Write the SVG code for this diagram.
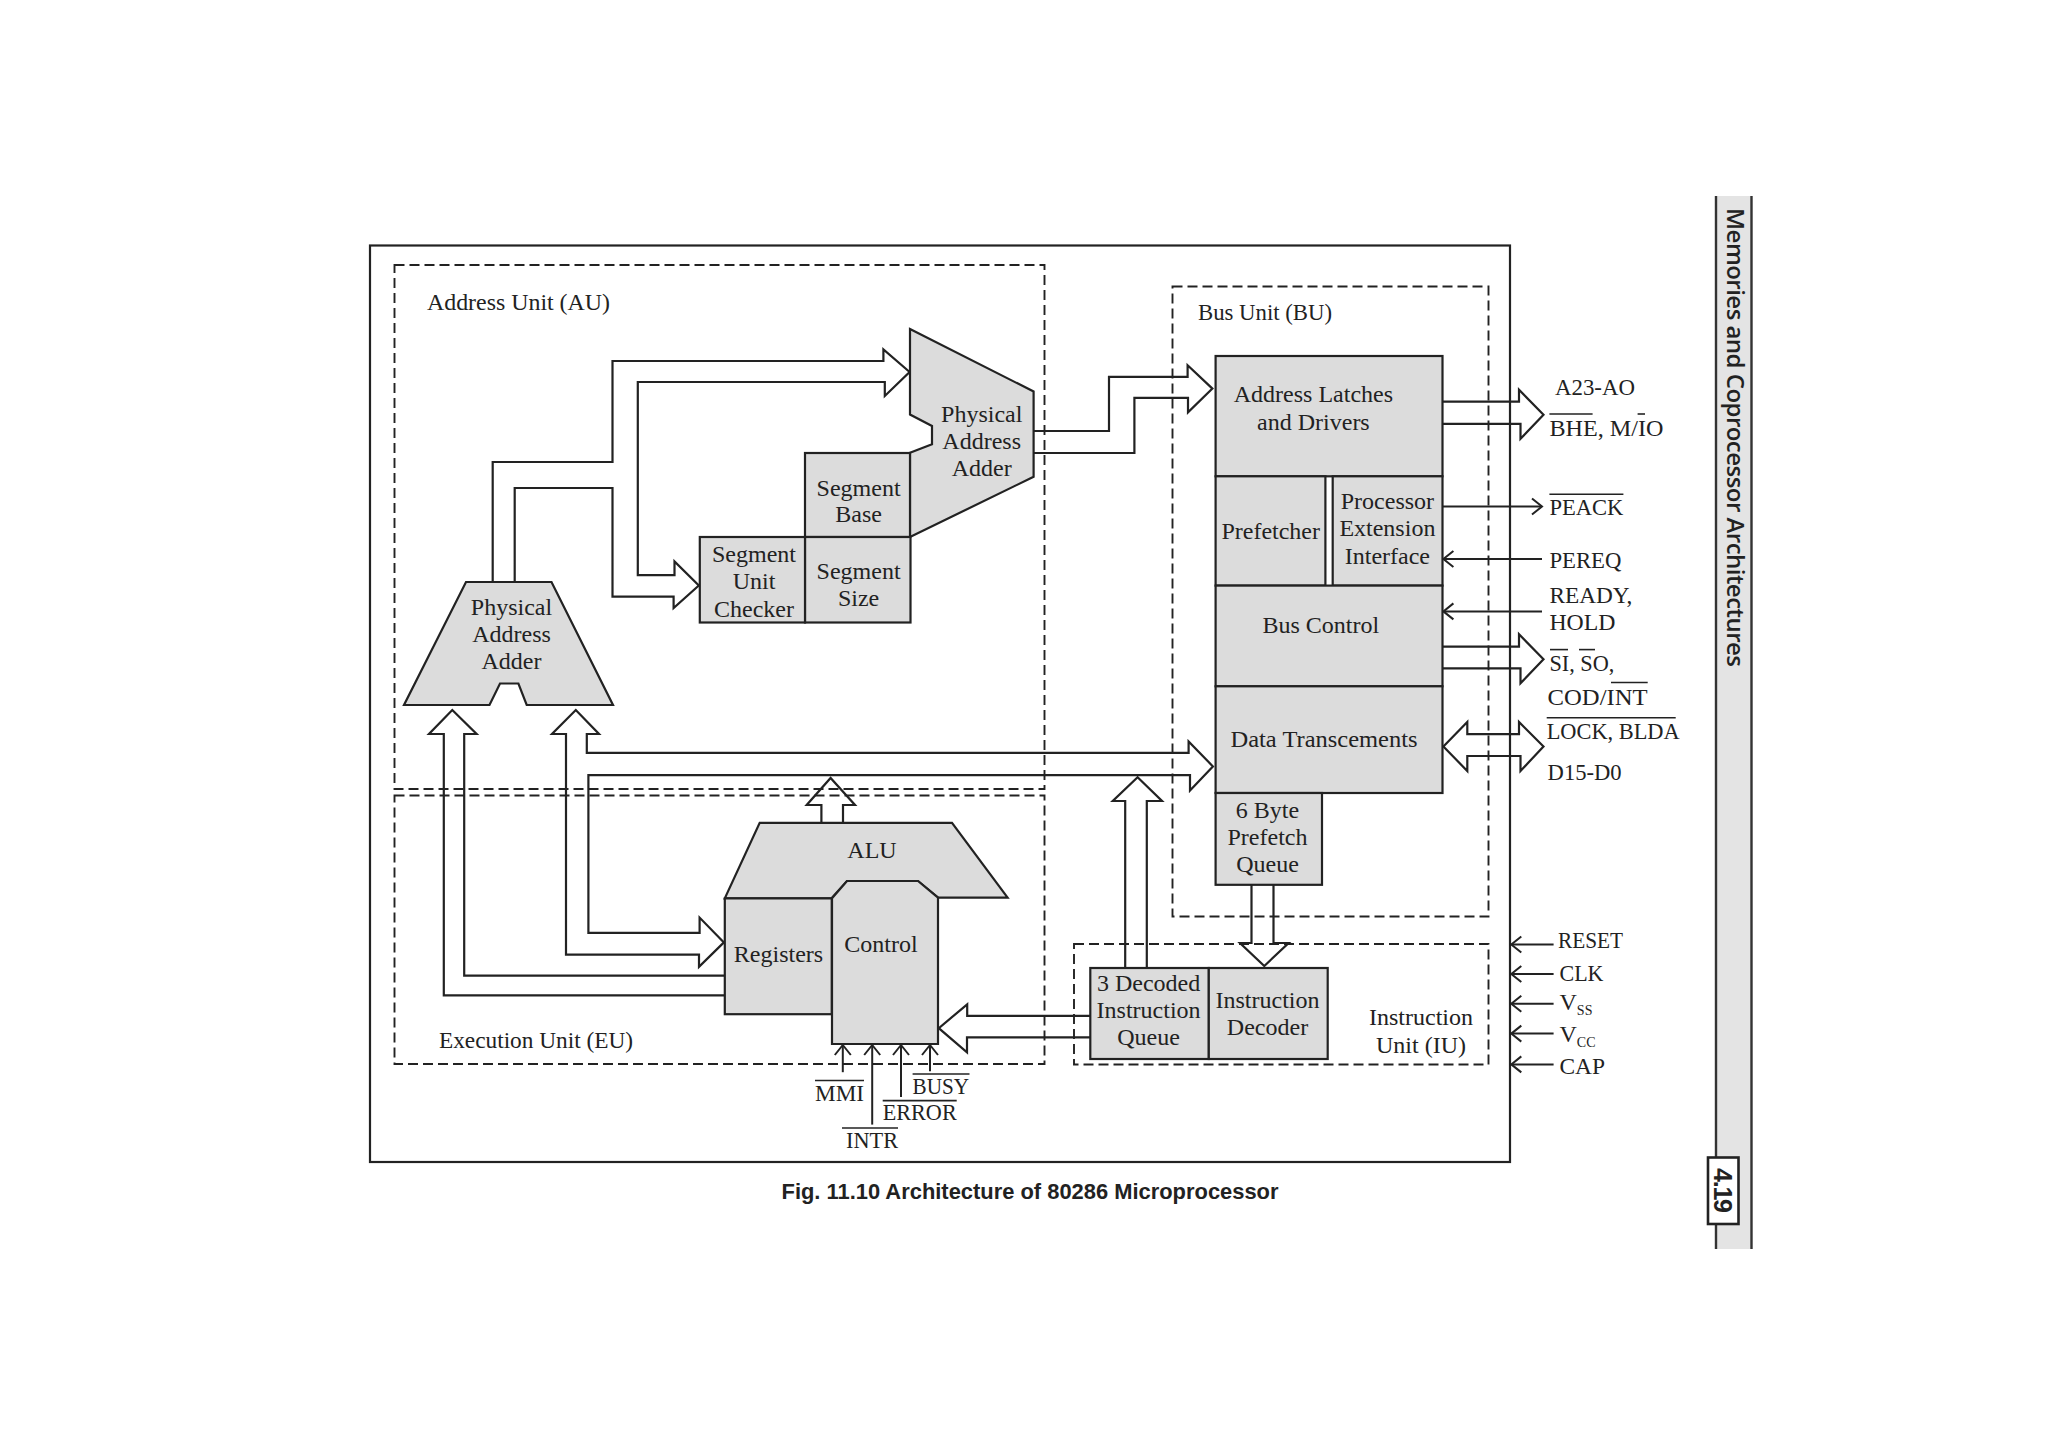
<svg xmlns="http://www.w3.org/2000/svg" width="2048" height="1447" viewBox="0 0 2048 1447">
<style>
text{font-family:"Liberation Serif","Times New Roman",serif;font-size:24px;fill:#222;}
.m{text-anchor:middle;}
.sub{font-size:14px;}
.n{fill:#dcdcdc;stroke:#222;stroke-width:2.2;stroke-linejoin:miter;}
.c{fill:none;stroke:#222;stroke-width:2.2;stroke-linejoin:miter;}
.s{fill:none;stroke:#222;stroke-width:2;marker-end:url(#open);}
.d{fill:none;stroke:#222;stroke-width:1.9;stroke-dasharray:10 5;}
.o{stroke:#222;stroke-width:1.6;}
.bar{stroke:#333;stroke-width:2.4;}
</style>
<defs>
<marker id="open" markerUnits="userSpaceOnUse" markerWidth="14" markerHeight="24" viewBox="-12 -12 14 24" refX="0" refY="0" orient="auto">
<path d="M-10,-8L0,0L-10,8" fill="none" stroke="#222" stroke-width="2"/>
</marker>
</defs>
<rect width="2048" height="1447" fill="#fff"/>

<g id="sidebar">
<rect x="1716" y="196" width="35" height="1053" fill="#e4e4e4"/>
<line class="bar" x1="1716" y1="196" x2="1716" y2="1249"/>
<line class="bar" x1="1751.5" y1="196" x2="1751.5" y2="1249"/>
<text transform="translate(1727,208) rotate(90)" style="font-family:'Open Sans',sans-serif;font-weight:600;font-size:24px" textLength="459">Memories and Coprocessor Architectures</text>
<rect x="1708" y="1157.5" width="30.5" height="66.5" fill="#fff" stroke="#222" stroke-width="2.6"/>
<text transform="translate(1714,1168) rotate(90)" style="font-family:'Liberation Sans',sans-serif;font-weight:700;font-size:25px" textLength="45">4.19</text>
</g>

<rect id="chip" x="370" y="245.5" width="1140" height="916.5" fill="none" stroke="#222" stroke-width="2.2"/>

<g id="units">
<rect class="d" x="394.5" y="265" width="650" height="524"/>
<rect class="d" x="394.5" y="795.5" width="650" height="268.5"/>
<rect class="d" x="1172.5" y="286.5" width="316" height="630"/>
<rect class="d" x="1074" y="944" width="414.5" height="120.5"/>
<text x="427" y="310" textLength="183" lengthAdjust="spacingAndGlyphs">Address Unit (AU)</text>
<text x="439" y="1047.5" textLength="194" lengthAdjust="spacingAndGlyphs">Execution Unit (EU)</text>
<text x="1198" y="320" textLength="134" lengthAdjust="spacingAndGlyphs">Bus Unit (BU)</text>
<text class="m" x="1421" y="1024.5">Instruction</text>
<text class="m" x="1421" y="1052.5">Unit (IU)</text>
</g>

<g id="connectors">
<path class="c" d="M492.7,581.3V462H612.5V361H883.4V349.4L909.6,372L884.8,396V382H637.8V575.2H674.5V561.4L698.8,585.5L673.6,608V596.6H612.5V488H514.7V581.3"/>
<path class="c" d="M1033.6,431H1109V376.8H1187.6V365.3L1212.4,388.6L1188,412.4V397.8H1134.4V453H1033.6"/>
<path class="c" d="M1442.5,401.6H1519V389.8L1543.5,414.7L1520.5,438.8V423.8H1442.5"/>
<path class="c" d="M1442.5,646.6H1519V634.3L1543.5,659.2L1520.5,683.3V668.4H1442.5"/>
<path class="c" d="M1443.4,746.5L1467.3,722V734.2H1519V722L1543.5,746.5L1520.5,771V756H1467.3V771Z"/>
<path class="c" d="M724.8,995.4H443.8V734H429L452.3,710L476.6,734H464.2V975.6H724.8"/>
<path class="c" d="M699,954.6H566V734H552L575.8,710L599,734H586.8V752.8H1188.6V741.5L1212.9,766.4L1190,790.5V775.2H588.4V932.8H699.6V917.6L723.9,942.4L699,966.9Z"/>
<path class="c" d="M821.4,822.8V805H806.7L830.6,778L855,805H843V822.8"/>
<path class="c" d="M1125.2,968V801H1112.8L1137.6,777.3L1162,801H1146.8V968"/>
<path class="c" d="M1251.5,884.8V943H1240L1264.3,966L1288.6,943H1273.5V884.8"/>
<path class="c" d="M1092,1015.9H967.2V1004.3L938.8,1028.2L967,1052.3V1037.4H1092"/>
<line class="s" x1="1442.5" y1="506.5" x2="1542" y2="506.5"/>
<line class="s" x1="1542" y1="559" x2="1443.4" y2="559"/>
<line class="s" x1="1542" y1="611.4" x2="1443.4" y2="611.4"/>
<line class="s" x1="1553.6" y1="944.5" x2="1511.3" y2="944.5"/>
<line class="s" x1="1553.6" y1="974" x2="1511.3" y2="974"/>
<line class="s" x1="1553.6" y1="1003.8" x2="1511.3" y2="1003.8"/>
<line class="s" x1="1553.6" y1="1033.6" x2="1511.3" y2="1033.6"/>
<line class="s" x1="1553.6" y1="1064.4" x2="1511.3" y2="1064.4"/>
<line class="s" x1="842.8" y1="1072.2" x2="842.8" y2="1045"/>
<line class="s" x1="872.2" y1="1124.6" x2="872.2" y2="1045"/>
<line class="s" x1="901" y1="1097" x2="901" y2="1045"/>
<line class="s" x1="930" y1="1071.2" x2="930" y2="1045"/>
</g>

<g id="adder-left">
<path class="n" d="M466,582H551.5L613,705H526.7L518.4,683.5H500L489.5,705H404Z"/>
<text class="m" x="511.5" y="615">Physical</text>
<text class="m" x="511.5" y="642.4">Address</text>
<text class="m" x="511.5" y="669">Adder</text>
</g>
<g id="adder-right">
<path class="n" d="M910,329L1033.6,391.5V476.8L910,537V452.7L932,444.3V426L910,414.5Z"/>
<text class="m" x="981.7" y="422">Physical</text>
<text class="m" x="981.7" y="449">Address</text>
<text class="m" x="981.7" y="476">Adder</text>
</g>
<g id="segment-base">
<rect class="n" x="805" y="453" width="105" height="84"/>
<text class="m" x="858.6" y="496">Segment</text>
<text class="m" x="858.6" y="522">Base</text>
</g>
<g id="segment-size">
<rect class="n" x="805" y="537" width="105.5" height="85.5"/>
<text class="m" x="858.6" y="579">Segment</text>
<text class="m" x="858.6" y="606">Size</text>
</g>
<g id="segment-checker">
<rect class="n" x="699.8" y="537" width="105.2" height="85.5"/>
<text class="m" x="754" y="562.4">Segment</text>
<text class="m" x="754" y="589.2">Unit</text>
<text class="m" x="754" y="616.8">Checker</text>
</g>
<g id="alu">
<path class="n" d="M759.7,822.8H952L1007.6,897.6H937.9L918,881H847L831.3,898.4H724.8Z"/>
<text class="m" x="872" y="857.5">ALU</text>
</g>
<g id="registers">
<rect class="n" x="724.8" y="898.4" width="107" height="115.8"/>
<text class="m" x="778.5" y="962">Registers</text>
</g>
<g id="control">
<path class="n" d="M832,898.4L847,881H918L938,897.6V1044H832Z"/>
<text class="m" x="881" y="952">Control</text>
</g>
<g id="address-latches">
<rect class="n" x="1215.6" y="356" width="226.9" height="120.3"/>
<text class="m" x="1313.4" y="402">Address Latches</text>
<text class="m" x="1313.4" y="429.6">and Drivers</text>
</g>
<g id="prefetcher">
<rect class="n" x="1215.6" y="476.3" width="109.8" height="109.3"/>
<text class="m" x="1270.7" y="538.7">Prefetcher</text>
</g>
<g id="pei">
<rect class="n" x="1332.7" y="476.3" width="109.8" height="109.3"/>
<text class="m" x="1387.4" y="508.8">Processor</text>
<text class="m" x="1387.4" y="536.4">Extension</text>
<text class="m" x="1387.4" y="564">Interface</text>
</g>
<g id="bus-control">
<rect class="n" x="1215.6" y="585.6" width="226.9" height="100.7"/>
<text class="m" x="1320.8" y="632.8">Bus Control</text>
</g>
<g id="data-transcements">
<rect class="n" x="1215.6" y="686.3" width="226.9" height="106.7"/>
<text class="m" x="1324" y="746.5" textLength="187" lengthAdjust="spacingAndGlyphs">Data Transcements</text>
</g>
<g id="prefetch-queue">
<rect class="n" x="1215.6" y="793" width="106.4" height="91.8"/>
<text class="m" x="1267.5" y="818">6 Byte</text>
<text class="m" x="1267.5" y="845">Prefetch</text>
<text class="m" x="1267.5" y="871.5">Queue</text>
</g>
<g id="decoded-queue">
<rect class="n" x="1090.3" y="968" width="118.5" height="91"/>
<text class="m" x="1148.6" y="990.5">3 Decoded</text>
<text class="m" x="1148.6" y="1017.5">Instruction</text>
<text class="m" x="1148.6" y="1044.5">Queue</text>
</g>
<g id="instruction-decoder">
<rect class="n" x="1208.8" y="968" width="118.9" height="91"/>
<text class="m" x="1267.5" y="1008.3">Instruction</text>
<text class="m" x="1267.5" y="1034.8">Decoder</text>
</g>

<g id="signals">
<text x="1555" y="395" textLength="80" lengthAdjust="spacingAndGlyphs">A23-AO</text>
<text x="1549.4" y="435.5" textLength="114" lengthAdjust="spacingAndGlyphs">BHE, M/IO</text>
<line class="o" x1="1549.4" y1="414" x2="1592.6" y2="414"/>
<line class="o" x1="1637.6" y1="414" x2="1645" y2="414"/>
<text x="1549.4" y="515" textLength="74" lengthAdjust="spacingAndGlyphs">PEACK</text>
<line class="o" x1="1549.4" y1="494.3" x2="1623.4" y2="494.3"/>
<text x="1549.4" y="567.5" textLength="72" lengthAdjust="spacingAndGlyphs">PEREQ</text>
<text x="1549.4" y="602.6" textLength="83" lengthAdjust="spacingAndGlyphs">READY,</text>
<text x="1549.4" y="629.7" textLength="66" lengthAdjust="spacingAndGlyphs">HOLD</text>
<text x="1549.4" y="671" textLength="65" lengthAdjust="spacingAndGlyphs">SI, SO,</text>
<line class="o" x1="1550" y1="649.6" x2="1568" y2="649.6"/>
<line class="o" x1="1579" y1="649.6" x2="1595" y2="649.6"/>
<text x="1547.6" y="705" textLength="100" lengthAdjust="spacingAndGlyphs">COD/INT</text>
<line class="o" x1="1611" y1="682.5" x2="1647.7" y2="682.5"/>
<text x="1546.7" y="739" textLength="133" lengthAdjust="spacingAndGlyphs">LOCK, BLDA</text>
<line class="o" x1="1546.7" y1="717.8" x2="1675.7" y2="717.8"/>
<text x="1547.6" y="780" textLength="74" lengthAdjust="spacingAndGlyphs">D15-D0</text>
<text x="1558" y="948" textLength="65" lengthAdjust="spacingAndGlyphs">RESET</text>
<text x="1559.5" y="980.7" textLength="44" lengthAdjust="spacingAndGlyphs">CLK</text>
<text x="1559.5" y="1010">V<tspan class="sub" dy="5">SS</tspan></text>
<text x="1559.5" y="1042">V<tspan class="sub" dy="5">CC</tspan></text>
<text x="1559.5" y="1074" textLength="45.5" lengthAdjust="spacingAndGlyphs">CAP</text>
<text x="815" y="1100.5" textLength="49" lengthAdjust="spacingAndGlyphs">MMI</text>
<line class="o" x1="815" y1="1080.5" x2="864" y2="1080.5"/>
<text x="912.6" y="1093.6" textLength="56.5" lengthAdjust="spacingAndGlyphs">BUSY</text>
<line class="o" x1="912.6" y1="1074" x2="969.5" y2="1074"/>
<text x="882.7" y="1120.2" textLength="74" lengthAdjust="spacingAndGlyphs">ERROR</text>
<line class="o" x1="882.7" y1="1100.6" x2="956.7" y2="1100.6"/>
<text x="846" y="1148" textLength="52" lengthAdjust="spacingAndGlyphs">INTR</text>
<line class="o" x1="842" y1="1128" x2="898" y2="1128"/>
</g>

<text id="caption" x="781.5" y="1199" style="font-family:'Liberation Sans',Arial,sans-serif;font-weight:700;font-size:22px" textLength="497" lengthAdjust="spacingAndGlyphs">Fig. 11.10 Architecture of 80286 Microprocessor</text>
</svg>
